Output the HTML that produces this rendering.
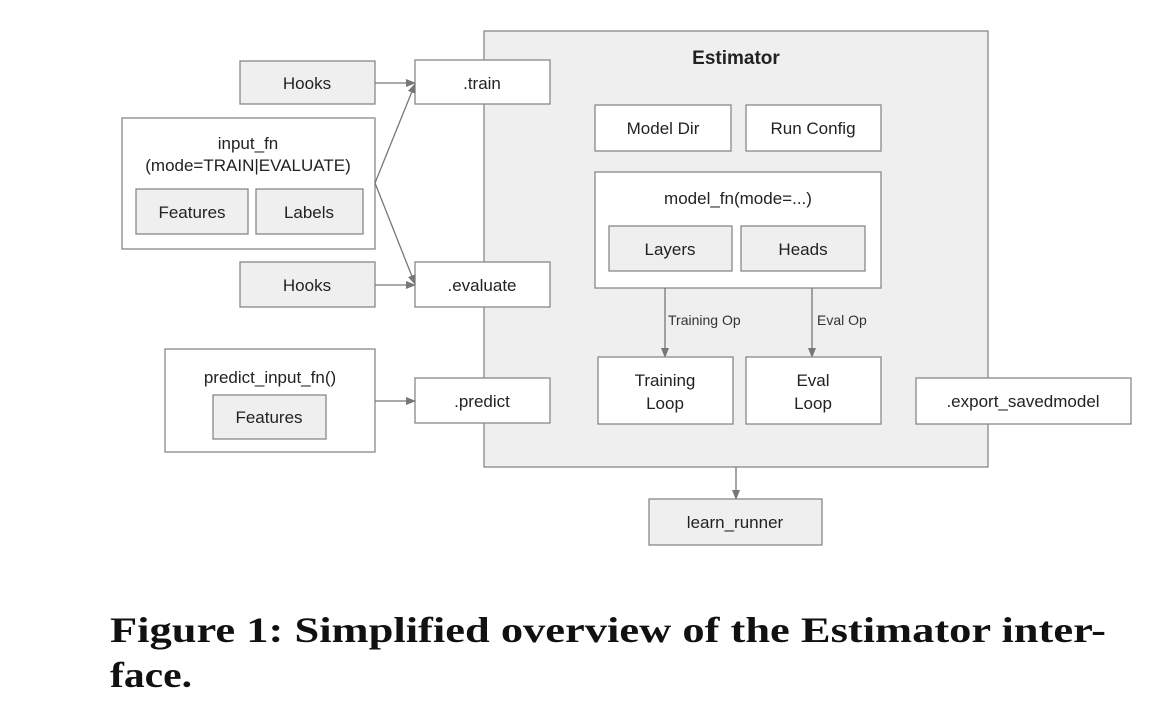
<!DOCTYPE html>
<html><head><meta charset="utf-8"><style>
html,body{margin:0;padding:0;background:#fff;}
svg{display:block}
.t{font-family:"Liberation Sans",sans-serif;font-size:17px;fill:#222;text-anchor:middle}
.s{font-family:"Liberation Sans",sans-serif;font-size:14px;fill:#333}
.g{fill:#efefef;stroke:#888;stroke-width:1.3}
.w{fill:#fff;stroke:#888;stroke-width:1.3}
.l{stroke:#777;stroke-width:1.3;fill:none}
</style></head><body>
<svg width="1151" height="708" viewBox="0 0 1151 708" xmlns="http://www.w3.org/2000/svg">
<defs><marker id="a" markerWidth="10" markerHeight="8" refX="9" refY="4" orient="auto" markerUnits="userSpaceOnUse"><path d="M0,0 L10,4 L0,8 z" fill="#777"/></marker></defs>
<rect class="g" x="484" y="31" width="504" height="436"/>
<text class="t" x="736" y="64" style="font-weight:bold;font-size:19px">Estimator</text>
<rect class="g" x="240" y="61" width="135" height="43"/><text class="t" x="307" y="89">Hooks</text>
<rect class="w" x="415" y="60" width="135" height="44"/><text class="t" x="482" y="89">.train</text>
<rect class="w" x="122" y="118" width="253" height="131"/>
<text class="t" x="248" y="149">input_fn</text>
<text class="t" x="248" y="171">(mode=TRAIN|EVALUATE)</text>
<rect class="g" x="136" y="189" width="112" height="45"/><text class="t" x="192" y="218">Features</text>
<rect class="g" x="256" y="189" width="107" height="45"/><text class="t" x="309" y="218">Labels</text>
<rect class="g" x="240" y="262" width="135" height="45"/><text class="t" x="307" y="291">Hooks</text>
<rect class="w" x="415" y="262" width="135" height="45"/><text class="t" x="482" y="291">.evaluate</text>
<rect class="w" x="165" y="349" width="210" height="103"/>
<text class="t" x="270" y="383">predict_input_fn()</text>
<rect class="g" x="213" y="395" width="113" height="44"/><text class="t" x="269" y="423">Features</text>
<rect class="w" x="415" y="378" width="135" height="45"/><text class="t" x="482" y="407">.predict</text>
<rect class="w" x="595" y="105" width="136" height="46"/><text class="t" x="663" y="134">Model Dir</text>
<rect class="w" x="746" y="105" width="135" height="46"/><text class="t" x="813" y="134">Run Config</text>
<rect class="w" x="595" y="172" width="286" height="116"/>
<text class="t" x="738" y="204">model_fn(mode=...)</text>
<rect class="g" x="609" y="226" width="123" height="45"/><text class="t" x="670" y="255">Layers</text>
<rect class="g" x="741" y="226" width="124" height="45"/><text class="t" x="803" y="255">Heads</text>
<line class="l" x1="665" y1="288" x2="665" y2="357" marker-end="url(#a)"/>
<line class="l" x1="812" y1="288" x2="812" y2="357" marker-end="url(#a)"/>
<text class="s" x="668" y="325">Training Op</text>
<text class="s" x="817" y="325">Eval Op</text>
<rect class="w" x="598" y="357" width="135" height="67"/><text class="t" x="665" y="386">Training</text><text class="t" x="665" y="409">Loop</text>
<rect class="w" x="746" y="357" width="135" height="67"/><text class="t" x="813" y="386">Eval</text><text class="t" x="813" y="409">Loop</text>
<rect class="w" x="916" y="378" width="215" height="46"/><text class="t" x="1023" y="407">.export_savedmodel</text>
<line class="l" x1="736" y1="467" x2="736" y2="499" marker-end="url(#a)"/>
<rect class="g" x="649" y="499" width="173" height="46"/><text class="t" x="735" y="528">learn_runner</text>
<line class="l" x1="375" y1="83" x2="415" y2="83" marker-end="url(#a)"/>
<line class="l" x1="375" y1="183" x2="415" y2="84" marker-end="url(#a)"/>
<line class="l" x1="375" y1="183" x2="415" y2="284" marker-end="url(#a)"/>
<line class="l" x1="375" y1="285" x2="415" y2="285" marker-end="url(#a)"/>
<line class="l" x1="375" y1="401" x2="415" y2="401" marker-end="url(#a)"/>
<text x="110" y="642" textLength="996" lengthAdjust="spacingAndGlyphs" style="font-family:'Liberation Serif',serif;font-weight:bold;font-size:36px;fill:#111">Figure 1: Simplified overview of the Estimator inter-</text>
<text x="110" y="687" textLength="82" lengthAdjust="spacingAndGlyphs" style="font-family:'Liberation Serif',serif;font-weight:bold;font-size:36px;fill:#111">face.</text>
</svg>
</body></html>
